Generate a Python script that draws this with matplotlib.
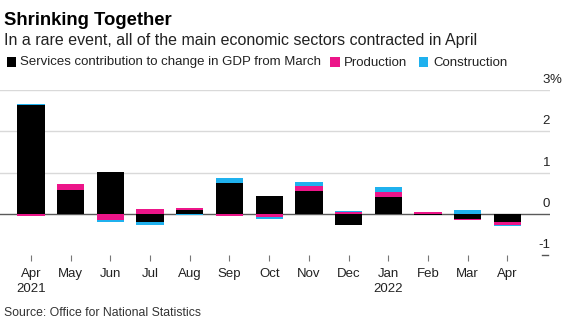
import matplotlib
matplotlib.use("Agg")
import matplotlib.pyplot as plt
import matplotlib.transforms as mtransforms
from matplotlib.patches import Rectangle
import numpy as np

plt.rcParams['font.family'] = ['Liberation Sans', 'DejaVu Sans']

months = ["Apr\n2021", "May", "Jun", "Jul", "Aug", "Sep", "Oct", "Nov", "Dec",
          "Jan\n2022", "Feb", "Mar", "Apr"]
services = [2.64, 0.58, 1.01, -0.20, 0.10, 0.745, 0.43, 0.55, -0.27, 0.40, -0.02, -0.12, -0.21]
production = [-0.06, 0.14, -0.15, 0.11, 0.05, -0.065, -0.08, 0.12, 0.05, 0.13, 0.05, -0.03, -0.06]
construction = [0.02, 0.0, -0.05, -0.07, -0.04, 0.11, -0.04, 0.10, 0.025, 0.13, 0.0, 0.10, -0.03]
series_names = ["Services contribution to change in GDP from March", "Production", "Construction"]
yticks = [-1, 0, 1, 2, 3]
source = "Source: Office for National Statistics"
title = "Shrinking Together"
subtitle = "In a rare event, all of the main economic sectors contracted in April"

colors = ["#000000", "#ec1589", "#1fb1ee"]

W, H = 576, 330
fig = plt.figure(figsize=(W / 100, H / 100), dpi=100)

def fx(x):
    return x / W

def fy(y):
    return 1 - y / H

ax = fig.add_axes([fx(0), fy(255), fx(550), (255 - 90) / H])
x = np.arange(len(months))
ax.set_xlim(-31 / 39.7, (550 - 31) / 39.7)
ax.set_ylim(-1, 3)

for v in [1, 2, 3]:
    ax.axhline(v, color="#d9d9d9", lw=1.0, zorder=0)
ax.axhline(0, color="#5a5a5a", lw=1.0, zorder=1)

pos_base = np.zeros(len(months))
neg_base = np.zeros(len(months))
for vals, c in zip([services, production, construction], colors):
    vals = np.array(vals)
    bottoms = np.where(vals >= 0, pos_base, neg_base)
    ax.bar(x, vals, bottom=bottoms, width=0.69, color=c, zorder=2, linewidth=0)
    pos_base = pos_base + np.where(vals >= 0, vals, 0)
    neg_base = neg_base + np.where(vals < 0, vals, 0)

for s in ax.spines.values():
    s.set_visible(False)
ax.set_yticks([])
ax.set_xticks(x)
ax.set_xticklabels(months, fontsize=9.5, color="#222222", linespacing=1.3)
ax.tick_params(axis="x", length=4, width=0.8, color="#777777", pad=5.5)

trans = mtransforms.blended_transform_factory(ax.transAxes, ax.transData)
for v in yticks:
    ax.annotate(str(v), xy=(1.0, v), xycoords=trans, xytext=(0, 5),
                textcoords="offset points", ha="right", va="baseline",
                fontsize=9.5, color="#222222")
ax.annotate("%", xy=(1.0, 3), xycoords=trans, xytext=(0, 5),
            textcoords="offset points", ha="left", va="baseline",
            fontsize=9.5, color="#222222")
ax.plot([542 / 550, 548 / 550], [-1, -1], transform=trans, color="#555555",
        lw=1.0, clip_on=False)

fig.text(fx(4), fy(25), title, fontsize=13.3, fontweight="bold", color="#000000",
         va="baseline", ha="left")
fig.text(fx(4), fy(45), subtitle, fontsize=11.55, color="#222222",
         va="baseline", ha="left")

leg_y = 62.5
for (sx, tx), name, c in zip([(6.5, 20.5), (330, 344), (418.5, 433)], series_names, colors):
    fig.patches.append(Rectangle((fx(sx), fy(leg_y + 4.5)), fx(9.5), 9.5 / H,
                                 transform=fig.transFigure, color=c, lw=0))
    fig.text(fx(tx), fy(leg_y), name, fontsize=9.5, color="#222222",
             va="center", ha="left")

fig.text(fx(4), fy(313), source, fontsize=8.8, color="#333333", va="center", ha="left")

fig.savefig("out.png", dpi=100)
